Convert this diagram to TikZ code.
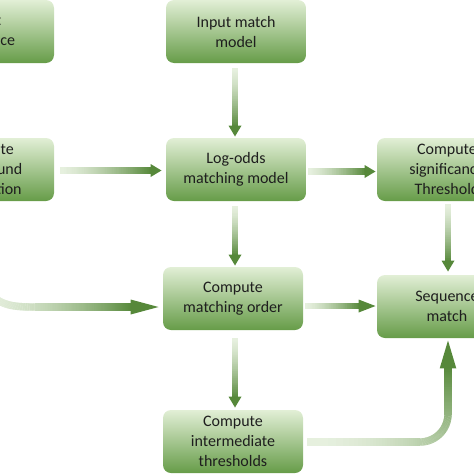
\documentclass[tikz,border=0pt]{standalone}
\usepackage{fontspec}
\setmainfont{Carlito}
\usetikzlibrary{calc,decorations.markings}
\definecolor{boxtop}{RGB}{226,239,214}
\definecolor{boxbot}{RGB}{102,156,72}
\definecolor{arrdark}{RGB}{86,136,58}
\definecolor{arrlight}{RGB}{236,244,229}
\definecolor{txt}{RGB}{30,30,30}
\tikzset{
  flowbox/.style={rectangle, rounded corners=8pt, minimum width=140pt, minimum height=63pt,
    inner sep=0pt, top color=boxtop, bottom color=boxbot, align=center,
    font=\fontsize{16}{20}\selectfont, text=txt},
  headlen/.store in=\hdlen, headwid/.store in=\hdwid, shaftw/.store in=\shw, gexp/.store in=\gex,
  headlen=10, headwid=6.5, shaftw=3.3, gexp=1.4,
  gradarrow/.style={decoration={markings,
    mark=between positions 0 and 1 step 0.7pt with {
      \pgfmathsetmacro\frc{\pgfkeysvalueof{/pgf/decoration/mark info/distance from start}/\pgfdecoratedpathlength}
      \pgfmathtruncatemacro\pc{4+96*(\frc^\gex)}
      \fill[arrdark!\pc!arrlight] (-0.5pt,-\shw pt) rectangle (0.5pt,\shw pt);},
    mark=at position -0.3pt with {\fill[arrdark] (-0.9pt,-\hdwid pt) -- (\hdlen pt,0pt) -- (-0.9pt,\hdwid pt) -- cycle;}
  }, decorate}
}
\begin{document}
\begin{tikzpicture}[x=1pt,y=-1pt]
\useasboundingbox (0,0) rectangle (474,474);
\clip (0,0) rectangle (474,474);
\node[flowbox] (tl) at (-16,31.5) {Input\\sequence};
\node[flowbox] (input) at (236,31.5) {Input match\\model};
\node[flowbox] (lm) at (-16,169.5) {Compute\\background\\distribution};
\node[flowbox] (logodds) at (236,169.5) {Log-odds\\matching model};
\node[flowbox] (sig) at (447,169.5) {Compute\\significance\\Threshold};
\node[flowbox] (order) at (233,298.5) {Compute\\matching order};
\node[flowbox] (seq) at (447,306.5) {Sequence\\match};
\node[flowbox] (inter) at (233,441.5) {Compute\\intermediate\\thresholds};
\coordinate (lstart) at (-22,283);
\coordinate (bend) at (448,442);
% vertical arrows
\path[gradarrow] ($(input.south)+(-1,5)$) -- ($(logodds.north)+(-1,-11)$);
\path[gradarrow] ($(logodds.south)+(-1,5)$) -- ($(order.north)+(2,-11)$);
\path[gradarrow] ($(order.south)+(2,8)$) -- ($(inter.north)+(2,-12)$);
\path[gradarrow] ($(sig.south)+(1,3)$) -- ($(seq.north)+(1,-13)$);
% horizontal arrows
\path[gradarrow] ($(lm.east)+(6,1)$) -- ($(logodds.west)+(-14,1)$);
\path[gradarrow] ($(logodds.east)+(2,2)$) -- ($(sig.west)+(-11,2)$);
\path[gradarrow, headlen=16, headwid=6.5] ($(order.east)+(2,7.5)$) -- ($(seq.west)+(-17,-0.5)$);
% curved arrows
\path[gradarrow, headlen=27, headwid=7.5, shaftw=3.7, gexp=1.8] (lstart) .. controls (-2,305) and (8,307) .. (35,307) -- ($(order.west)+(-31,8.5)$);
\path[gradarrow, headlen=27, headwid=8.3, shaftw=3.7, gexp=2] ($(inter.east)+(4,0.5)$) -- ($(bend)+(-28,0)$) .. controls ($(bend)+(-12.5,0)$) and ($(bend)+(0,-12.5)$) .. ($(bend)+(0,-28)$) -- ($(seq.south)+(1,29)$);
\end{tikzpicture}
\end{document}
